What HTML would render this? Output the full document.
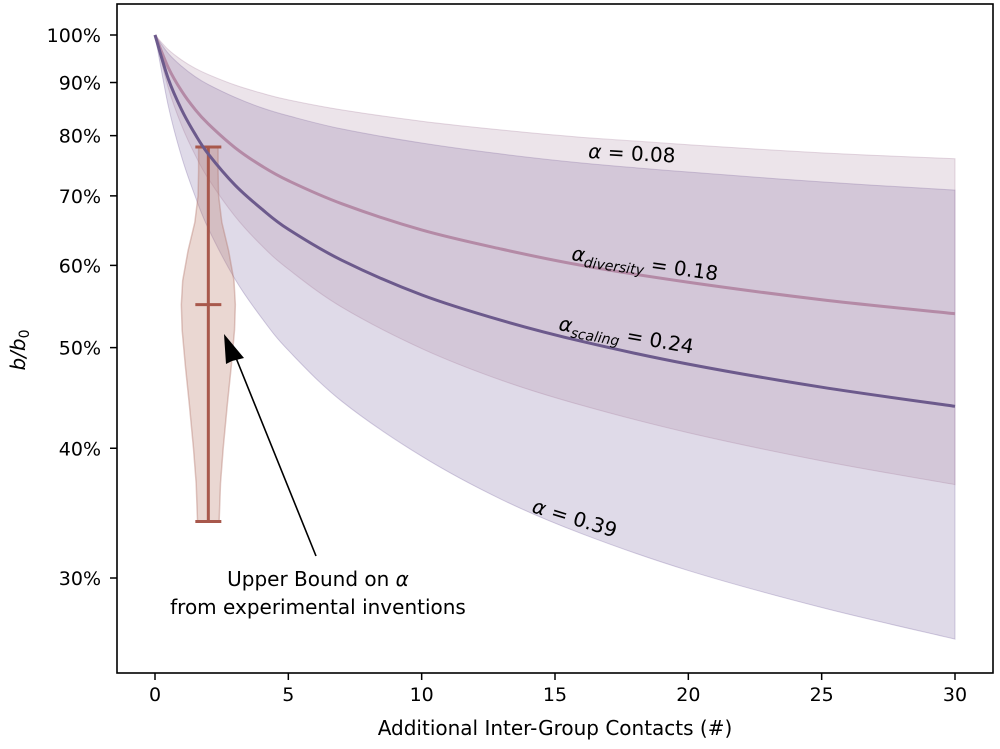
<!DOCTYPE html>
<html><head><meta charset="utf-8"><style>
body{margin:0;background:#fff;font-family:"Liberation Sans","DejaVu Sans",sans-serif}
svg text{font-family:"DejaVu Sans","Liberation Sans",sans-serif}
</style></head><body>
<svg id="chart" width="1000" height="744" viewBox="0 0 1000 744" xmlns="http://www.w3.org/2000/svg">
<g id="bands"></g>
<g id="violin"></g>
<g id="lines"></g>
<rect x="117" y="4" width="876" height="669" fill="none" stroke="#000" stroke-width="1.6"/>
<g id="axes"></g>
<text transform="translate(588,158) rotate(3)" font-size="20" font-style="italic">α<tspan font-style="normal"> = 0.08</tspan></text>
<text transform="translate(571,260) rotate(8)" font-size="20"><tspan font-style="italic">α</tspan><tspan font-size="14" font-style="italic" dy="5">diversity</tspan><tspan dy="-5"> = 0.18</tspan></text>
<text transform="translate(558,330) rotate(10)" font-size="20"><tspan font-style="italic">α</tspan><tspan font-size="14" font-style="italic" dy="5">scaling</tspan><tspan dy="-5"> = 0.24</tspan></text>
<text transform="translate(531,512) rotate(17)" font-size="20"><tspan font-style="italic">α</tspan> = 0.39</text>
<line x1="316" y1="556" x2="232" y2="348" stroke="#000" stroke-width="1.6"/>
<polygon points="224,334 244,358 232,361 226,364" fill="#000"/>
<text x="318" y="586" font-size="20" text-anchor="middle">Upper Bound on <tspan font-style="italic">α</tspan></text>
<text x="318" y="614" font-size="20" text-anchor="middle">from experimental inventions</text>
<text x="555" y="735" font-size="20" text-anchor="middle">Additional Inter-Group Contacts (#)</text>
<text transform="translate(25,350) rotate(-90)" font-size="20" text-anchor="middle" font-style="italic">b/b<tspan font-size="14" dy="4" font-style="normal">0</tspan></text>
</svg>
<script>
const xs=[0,0.5,1,1.5,2,3,4,5,7,10,13,16,20,25,30];
const a008=[1,.968,.946,.929,.916,.895,.879,.866,.847,.826,.810,.797,.784,.770,.760];
const a010=[1,.960,.933,.912,.896,.871,.851,.836,.812,.787,.768,.753,.738,.722,.709];
const a018=[1,.930,.883,.848,.821,.779,.748,.724,.688,.649,.622,.600,.578,.556,.539];
const a024=[1,.907,.847,.803,.768,.717,.680,.650,.607,.562,.531,.507,.482,.458,.439];
const a029=[1,.889,.818,.767,.727,.669,.627,.595,.547,.499,.465,.440,.414,.389,.369];
const a039=[1,.854,.763,.700,.651,.582,.534,.497,.444,.393,.357,.331,.305,.281,.262];
const xTicks=[0,5,10,15,20,25,30];
const yTicks=[0.3,0.4,0.5,0.6,0.7,0.8,0.9,1.0];
const yTickLabels=["30%","40%","50%","60%","70%","80%","90%","100%"];
const violinX=2, violinMin=0.34, violinMed=0.55, violinMax=0.78;
const violinYs=[0.34,0.37,0.40,0.44,0.48,0.52,0.55,0.58,0.62,0.66,0.70,0.74,0.78];
const violinW=[0.40,0.45,0.55,0.70,0.85,0.97,1.0,0.95,0.75,0.50,0.38,0.36,0.36];
const X=v=>155+v*(800/30);
const Y=v=>35-Math.log10(v)*1038.5;
const NS="http://www.w3.org/2000/svg";
function mk(p,t,at){const e=document.createElementNS(NS,t);for(const k in at)e.setAttribute(k,at[k]);p.appendChild(e);return e;}
function pts(ys){return xs.map((x,i)=>[X(x),Y(ys[i])]);}
function smooth(p){let d="M"+p[0][0]+","+p[0][1];for(let i=0;i<p.length-1;i++){const p0=p[i-1]||p[i],p1=p[i],p2=p[i+1],p3=p[i+2]||p2;d+=" C"+(p1[0]+(p2[0]-p0[0])/6)+","+(p1[1]+(p2[1]-p0[1])/6)+" "+(p2[0]-(p3[0]-p1[0])/6)+","+(p2[1]-(p3[1]-p1[1])/6)+" "+p2[0]+","+p2[1];}return d;}
function band(top,bot){const t=smooth(pts(top));const b=pts(bot).reverse();return t+" L"+b[0][0]+","+b[0][1]+smooth(b).slice(1).replace(/^[^C]*/,"")+"Z";}
const bands=document.getElementById('bands');
let e=mk(bands,'path',{d:band(a010,a039),fill:'rgba(120,100,160,0.24)',stroke:'rgba(120,100,160,0.3)'});


e=mk(bands,'path',{d:band(a008,a029),fill:'rgba(170,130,160,0.22)',stroke:'rgba(170,130,160,0.3)'});


const vg=document.getElementById('violin');
const cx=X(violinX);
let L=violinYs.map((v,i)=>[cx-27*violinW[i],Y(v)]),R=violinYs.map((v,i)=>[cx+27*violinW[i],Y(v)]).reverse();
e=mk(vg,'path',{d:"M"+L.map(p=>p.join(",")).join(" L")+" L"+R.map(p=>p.join(",")).join(" L")+"Z",fill:'rgba(190,130,115,0.32)',stroke:'rgba(180,120,110,0.4)','stroke-width':1.5});


const ec='#a8584c';
e=mk(vg,'line',{x1:cx,x2:cx,y1:Y(violinMin),y2:Y(violinMax),stroke:ec,'stroke-width':3});


[violinMin,violinMed,violinMax].forEach(v=>{e=mk(vg,'line',{x1:cx-13,x2:cx+13,y1:Y(v),y2:Y(v),stroke:ec,'stroke-width':3});

});
const lg=document.getElementById('lines');
e=mk(lg,'path',{d:smooth(pts(a018)),fill:'none',stroke:'#b48aa6','stroke-width':3});


e=mk(lg,'path',{d:smooth(pts(a024)),fill:'none',stroke:'#6c5a8c','stroke-width':3});


const ax=document.getElementById('axes');
xTicks.forEach(t=>{e=mk(ax,'line',{x1:X(t),x2:X(t),y1:673,y2:680,stroke:'#000','stroke-width':1.5});


e=mk(ax,'text',{x:X(t),y:701,'font-size':19,'text-anchor':'middle'});e.textContent=t;

});
yTicks.forEach((t,i)=>{e=mk(ax,'line',{x1:110,x2:117,y1:Y(t),y2:Y(t),stroke:'#000','stroke-width':1.5});


e=mk(ax,'text',{x:101,y:Y(t)+7,'font-size':19,'text-anchor':'end'});e.textContent=yTickLabels[i];

});
</script>
</body></html>
